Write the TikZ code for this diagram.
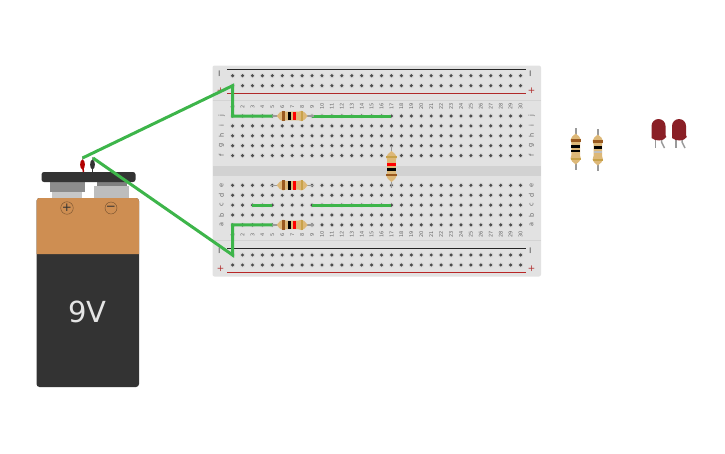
\documentclass[tikz,border=0pt]{standalone}
\usepackage{fontspec}
\setmainfont{DejaVu Sans}
\definecolor{boardgray}{HTML}{E2E2E2}
\definecolor{groovegray}{HTML}{D2D2D2}
\definecolor{wiregreen}{HTML}{3DB54A}
\definecolor{battorange}{HTML}{CE8E52}
\definecolor{battdark}{HTML}{333333}
\definecolor{railred}{HTML}{B02A2A}
\definecolor{ledred}{HTML}{8A1F26}
\definecolor{bodytan}{HTML}{DDB878}
\definecolor{bandbrown}{HTML}{9A5A20}
\definecolor{bandgold}{HTML}{C8A24A}
\definecolor{leadgray}{HTML}{9A9A9A}
\tikzset{
	boardlabel/.style={text=black!60, font=\fontsize{5}{5}\selectfont, inner sep=0pt, rotate=90},
	railmark/.style={font=\fontsize{9}{9}\selectfont, inner sep=0pt, rotate=90},
	jumper/.style={wiregreen, line width=3pt, line join=miter},
	polarity/.style={circle, draw=black!45!battorange, minimum size=12pt, inner sep=0pt, text=battdark, font=\fontsize{12}{12}\selectfont},
}
% center x, center y, rotation, three bands, lead length
\newcommand{\resistor}[7]{
	\begin{scope}[shift={(#1,#2)}, rotate=#3]
	\draw[leadgray, line width=1.6pt] (-#7,0) -- (#7,0);
	\fill[bodytan] (-15.5,0) -- (-12.5,-3.5) .. controls (-10.5,-5.6) and (-8,-5.6) .. (-6,-4.3) -- (6,-4.3)
		.. controls (8,-5.6) and (11.5,-5.6) .. (12.5,-3.5) -- (15.5,0) -- (12.5,3.5)
		.. controls (11.5,5.6) and (8,5.6) .. (6,4.3) -- (-6,4.3)
		.. controls (-8,5.6) and (-10.5,5.6) .. (-12.5,3.5) -- cycle;
	\fill[#4] (-9.8,-5.1) rectangle (-7.2,5.1);
	\fill[#5] (-4,-4.3) rectangle (-1.4,4.3);
	\fill[#6] (0.8,-4.3) rectangle (3.4,4.3);
	\fill[bandgold] (8.9,-5.1) rectangle (10.5,5.1);
	\end{scope}
}
\newcommand{\ledbody}[1]{
	\begin{scope}[shift={(#1,0)}]
	\draw[leadgray, line width=1.5pt] (-3,137) -- (-3,148);
	\draw[leadgray, line width=1.5pt] (3,137) -- (3,142) -- (6,148);
	\fill[ledred] (-7,138) -- (-7,126) arc (180:360:7) -- (7,135) -- (7.8,137) .. controls (5,141.5) and (-3,141.5) .. (-7,138) -- cycle;
	\end{scope}
}
\begin{document}
\begin{tikzpicture}[
	x=1pt,
	y=-1pt,
	line join=round,
	]
\useasboundingbox (0,0) rectangle (725,453);
% breadboard
\fill[boardgray, rounded corners=2pt] (212.5,65.5) rectangle (541,276.5);
\fill[groovegray] (212.5,166) rectangle (541,175.5);
\draw[black!17, line width=.7pt] (212.5,100.5) -- (541,100.5);
\draw[black!17, line width=.7pt] (212.5,240.5) -- (541,240.5);
\draw[black!85, line width=.8pt] (227,69.5) -- (526,69.5);
\draw[railred, line width=.8pt] (227,93.5) -- (526,93.5);
\draw[black!85, line width=.8pt] (227,248.5) -- (526,248.5);
\draw[railred!90!red, line width=.8pt] (227,272.5) -- (526,272.5);
\foreach \r/\y in {tm/75.7, tp/85.7, j/116, i/125.9, h/135.8, g/145.7, f/155.6, e/185.3, d/195.2, c/205.1, b/215, a/224.9, bm/255, bp/265}
	\foreach \c in {1,...,30}
		{
		\coordinate (\r\c) at ({232.6+9.93*(\c-1)},\y);
		\fill[black!15] (\r\c) circle (2.7);
		\fill[black!70] (\r\c) circle (1.7);
		}
\foreach \c in {1,...,30}
	{
	\node[boardlabel] (numtop\c) at ({232.6+9.93*(\c-1)},106.5) {\c};
	\node[boardlabel] (numbot\c) at ({232.6+9.93*(\c-1)},234.5) {\c};
	}
\foreach \r/\y in {j/116, i/125.9, h/135.8, g/145.7, f/155.6, e/185.3, d/195.2, c/205.1, b/215, a/224.9}
	{
	\node[boardlabel, font=\fontsize{6.5}{6.5}\selectfont] (left\r) at (221.5,\y) {\r};
	\node[boardlabel, font=\fontsize{6.5}{6.5}\selectfont] (right\r) at (531.5,\y) {\r};
	}
\foreach \x/\n in {220.5/l, 531.5/r}
	{
	\node[railmark, text=black!75] (minustop\n) at (\x,73.5) {−};
	\node[railmark, text=railred] (plustop\n) at (\x,90.5) {+};
	\node[railmark, text=black!75] (minusbot\n) at (\x,251) {−};
	\node[railmark, text=railred] (plusbot\n) at (\x,268.5) {+};
	}
% wires on the board
\draw[jumper] (j9) -- (j17);
\draw[jumper] (c3) -- (c5);
\draw[jumper] (c9) -- (c17);
% resistors on the board
\resistor{292.2}{116}{0}{bandbrown}{black}{red}{22}
\resistor{292.2}{185.3}{0}{bandbrown}{black}{red}{22}
\resistor{292.2}{224.9}{0}{bandbrown}{black}{red}{22}
\resistor{391.5}{166.5}{90}{bandbrown}{black}{red}{21}
% loose parts
\resistor{575.7}{149}{-90}{bandbrown}{black}{black}{21}
\resistor{597.8}{150}{-90}{bandbrown}{black}{black!25}{21}
\ledbody{658.5}
\ledbody{679}
% battery
\fill[battdark, rounded corners=3pt] (36.5,198) rectangle (139,387);
\fill[battorange] (36.5,254) [rounded corners=3pt] -- (36.5,198) -- (139,198) [sharp corners] -- (139,254) -- cycle;
\fill[black!45] (50,182) rectangle (85,192);
\fill[black!22] (52,192) rectangle (82,198);
\fill[black!50] (97,182) rectangle (127,186);
\fill[black!26] (94,186) rectangle (129,198);
\fill[battdark, rounded corners=2.5pt] (41.5,172) rectangle (135.5,182);
\node[polarity] (plus) at (67,208) {+};
\node[polarity] (minus) at (111,208) {−};
\node[text=black!10, font=\fontsize{29}{29}\selectfont, inner sep=0pt] (volt) at (87.5,311.5) {9V};
% battery leads
\draw[leadgray, line width=1.6pt] (82.5,157) -- (82.5,162);
\draw[leadgray, line width=1.6pt] (92.5,157) -- (92.5,162);
\draw[red!70!black, line width=1.5pt] (82.5,165) -- (83.5,172);
\draw[battdark, line width=1.5pt] (92.5,165) -- (92.5,172);
\fill[red!70!black] (82.5,164.5) ellipse (2.4 and 5);
\fill[battdark] (92.5,164.5) ellipse (2.4 and 5);
\coordinate (leadplus) at (82.5,158);
\coordinate (leadminus) at (93,158);
% wires from the battery
\draw[jumper] (leadplus) -- (tp1) -- (j1) -- (j5);
\draw[jumper] (a5) -- (a1) -- (bm1) -- (leadminus);
\end{tikzpicture}
\end{document}
